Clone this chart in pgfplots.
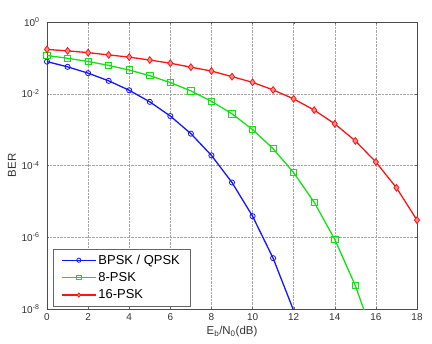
\documentclass[border=0pt]{standalone}
\usepackage{fontspec}
\setmainfont{Liberation Sans}
\usepackage{pgfplots}
\pgfplotsset{compat=1.18}
\begin{document}
\begin{tikzpicture}
\begin{semilogyaxis}[
  scale only axis, width=370bp, height=287bp,
  xmin=0, xmax=18, ymin=1e-8, ymax=1,
  xtick={0,2,...,18},
  ytick={1e-8,1e-6,1e-4,1e-2,1},
  yticklabels={10\textsuperscript{-8},10\textsuperscript{-6},10\textsuperscript{-4},10\textsuperscript{-2},10\textsuperscript{0}},
  /pgf/number format/assume math mode=true,
  tick label style={font=\fontsize{10}{12}\selectfont, text=black!80},
  xticklabel style={yshift=-1pt},
  yticklabel style={xshift=-4bp},
  minor ytick={}, yminorgrids=false,
  major tick length=2pt,
  tick style={black!60},
  grid=major,
  grid style={densely dotted, gray!70, line width=0.5pt},
  axis line style={black!70, line width=0.6pt},
  xlabel={E\textsubscript{b}/N\textsubscript{0}(dB)},
  ylabel={BER},
  label style={font=\fontsize{11.5}{14}\selectfont, text=black!80},
  xlabel style={yshift=1pt},
  ylabel style={yshift=-1pt},
  legend style={at={(axis cs:0,1e-8)}, anchor=south west, xshift=6bp, yshift=3bp,
    font=\fontsize{13}{15}\selectfont, draw=black!60,
    row sep=2.8bp, inner xsep=8bp, inner ysep=3.5bp, cells={anchor=west}},
  legend cell align=left,
  legend image code/.code={
    \draw[line width=1.3pt, mark repeat=2, mark phase=2, mark size=2.1pt]
      plot coordinates {(0bp,0bp) (17bp,0bp) (34bp,0bp)};},
  every axis plot/.append style={line width=1.3pt},
]
\addplot[color={rgb,255:red,20;green,20;blue,255}, mark=o, mark size=2.6pt, mark options={line width=0.8pt}] coordinates {
(0,0.0786) (1,0.0563) (2,0.0375) (3,0.0229) (4,0.0125) (5,0.00595) (6,0.00239)
(7,7.73e-4) (8,1.91e-4) (9,3.36e-5) (10,3.87e-6) (11,2.61e-7) (12,9.0e-9)};
\addlegendentry{BPSK / QPSK}
\addplot[color={rgb,255:red,20;green,225;blue,20}, mark=square, mark size=3.2pt, mark options={line width=0.8pt}] coordinates {
(0,0.1163) (1,0.0977) (2,0.0793) (3,0.0618) (4,0.0458) (5,0.0319) (6,0.0205)
(7,0.0120) (8,0.00618) (9,0.00275) (10,0.00101) (11,2.94e-4) (12,6.34e-5)
(13,9.4e-6) (14,8.7e-7) (15,4.5e-8) (16,1.1e-9)};
\addlegendentry{8-PSK}
\addplot[color={rgb,255:red,255;green,20;blue,20}, mark=diamond*, mark size=3.4pt, mark options={line width=0.8pt, fill=red!45}] coordinates {
(0,0.172) (1,0.157) (2,0.140) (3,0.121) (4,0.105) (5,0.087) (6,0.071)
(7,0.055) (8,0.043) (9,0.030) (10,0.0208) (11,0.0128) (12,0.0072)
(13,0.0035) (14,0.00145) (15,4.85e-4) (16,1.25e-4) (17,2.4e-5) (18,3.0e-6)};
\addlegendentry{16-PSK}
\end{semilogyaxis}
\path[use as bounding box] (current axis.south west) ++(-47bp,-35bp) rectangle ++(432bp,344bp);
\end{tikzpicture}
\end{document}
